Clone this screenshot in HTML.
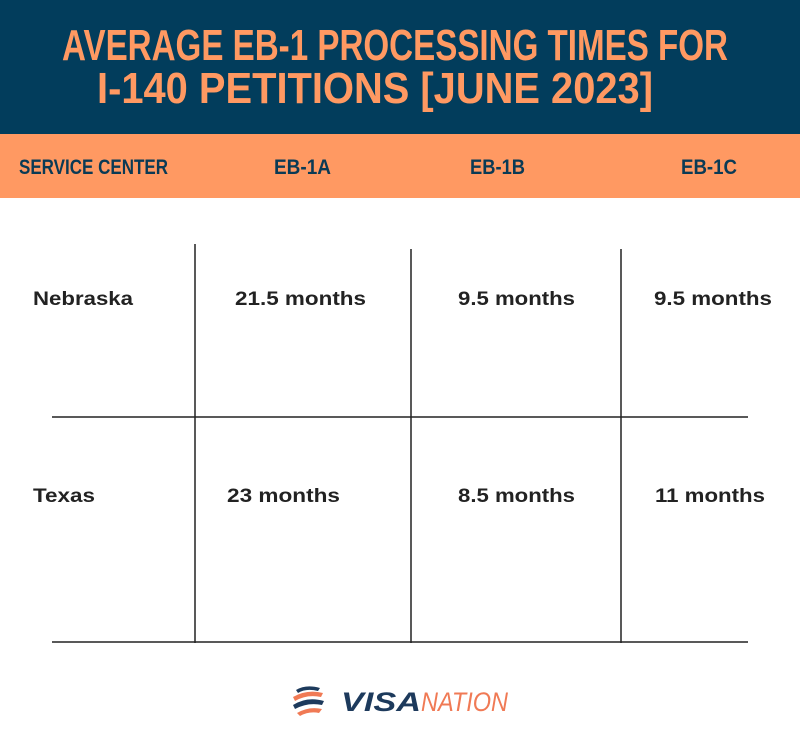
<!DOCTYPE html>
<html><head><meta charset="utf-8"><style>
html,body{margin:0;padding:0;background:#fff}
svg{display:block}
</style></head><body>
<svg width="800" height="756" viewBox="0 0 800 756" xmlns="http://www.w3.org/2000/svg">
<rect x="0" y="0" width="800" height="134" fill="#023d5c"/>
<g font-family="'Liberation Sans', sans-serif" font-weight="bold" fill="#ff9962" font-size="44">
<text x="62" y="60" textLength="666" lengthAdjust="spacingAndGlyphs">AVERAGE EB-1 PROCESSING TIMES FOR</text>
<text x="97" y="103" textLength="556" lengthAdjust="spacingAndGlyphs">I-140 PETITIONS [JUNE 2023]</text>
</g>
<rect x="0" y="134" width="800" height="64" fill="#ff9962"/>
<g font-family="'Liberation Sans', sans-serif" font-weight="bold" fill="#0a3a55" font-size="21">
<text x="19" y="174" textLength="149" lengthAdjust="spacingAndGlyphs">SERVICE CENTER</text>
<text x="274" y="174" textLength="57" lengthAdjust="spacingAndGlyphs">EB-1A</text>
<text x="470" y="174" textLength="55" lengthAdjust="spacingAndGlyphs">EB-1B</text>
<text x="681" y="174" textLength="56" lengthAdjust="spacingAndGlyphs">EB-1C</text>
</g>
<g stroke="#222" stroke-width="1.5">
<line x1="195" y1="244" x2="195" y2="643"/>
<line x1="411" y1="249" x2="411" y2="643"/>
<line x1="621" y1="249" x2="621" y2="643"/>
<line x1="52" y1="417" x2="748" y2="417"/>
<line x1="52" y1="642" x2="748" y2="642"/>
</g>
<g font-family="'Liberation Sans', sans-serif" font-weight="bold" fill="#222" font-size="19">
<text x="33" y="305" textLength="100" lengthAdjust="spacingAndGlyphs">Nebraska</text>
<text x="235" y="305" textLength="131" lengthAdjust="spacingAndGlyphs">21.5 months</text>
<text x="458" y="305" textLength="117" lengthAdjust="spacingAndGlyphs">9.5 months</text>
<text x="654" y="305" textLength="118" lengthAdjust="spacingAndGlyphs">9.5 months</text>
<text x="33" y="502" textLength="62" lengthAdjust="spacingAndGlyphs">Texas</text>
<text x="227" y="502" textLength="113" lengthAdjust="spacingAndGlyphs">23 months</text>
<text x="458" y="502" textLength="117" lengthAdjust="spacingAndGlyphs">8.5 months</text>
<text x="655" y="502" textLength="110" lengthAdjust="spacingAndGlyphs">11 months</text>
</g>
<g>
<path d="M296 690 q10 -6 24 -2 l-2 3 q-12 -3 -20 2z" fill="#1d3a5c"/>
<path d="M293 697 q14 -8 30 -4 l-2 4 q-14 -3 -26 4z" fill="#f07a55"/>
<path d="M293 705 q14 -9 31 -4 l-2 4 q-14 -3 -27 4z" fill="#1d3a5c"/>
<path d="M297 713 q12 -7 25 -4 l-3 4 q-10 -2 -19 3z" fill="#f07a55"/>
<text x="341" y="711" font-family="'Liberation Sans', sans-serif" font-weight="bold" font-style="italic" font-size="27" fill="#1d3a5c" textLength="80" lengthAdjust="spacingAndGlyphs">VISA</text>
<text x="421" y="711" font-family="'Liberation Sans', sans-serif" font-style="italic" font-size="27" fill="#f07a55" textLength="87" lengthAdjust="spacingAndGlyphs">NATION</text>
</g>
</svg>
</body></html>
